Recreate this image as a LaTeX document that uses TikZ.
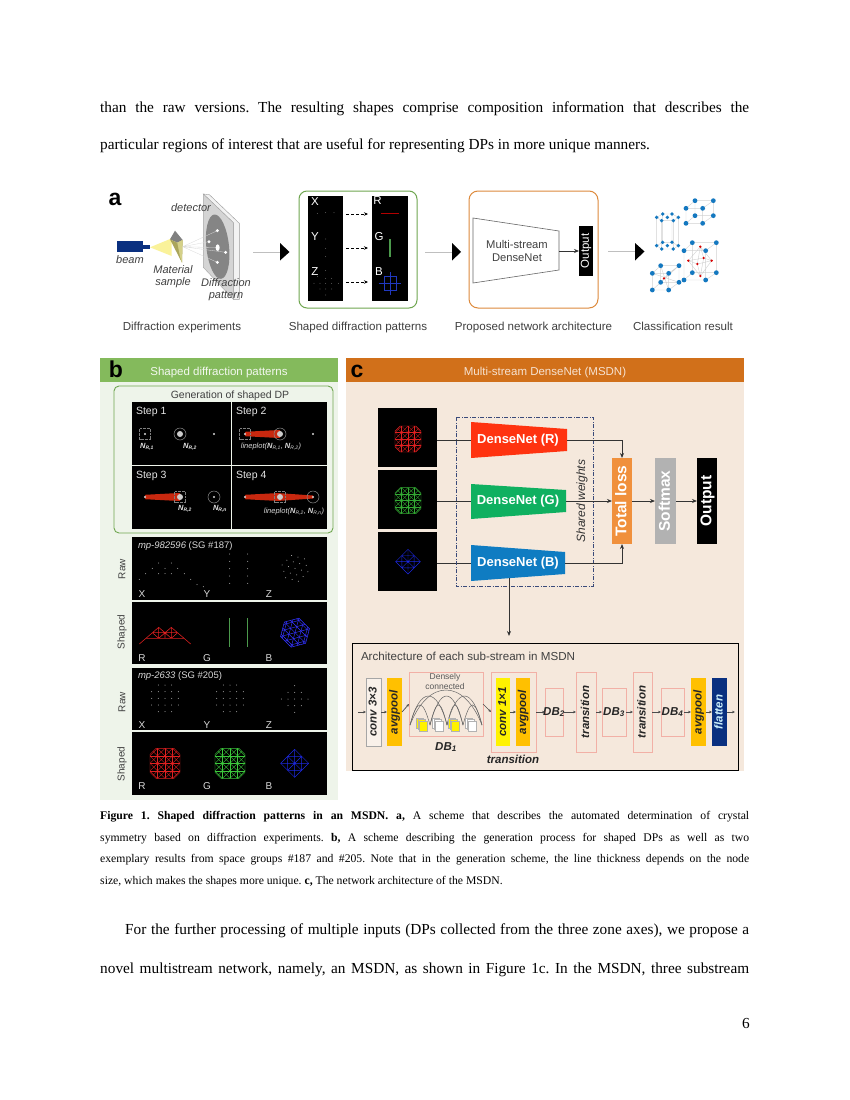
\documentclass[tikz,border=0pt]{standalone}
\usepackage{fontspec}
\setmainfont{Liberation Serif}
\setsansfont{Liberation Sans}
\usetikzlibrary{arrows.meta,calc}
\definecolor{hdrgreen}{HTML}{84BA5C}
\definecolor{bggreen}{HTML}{EEF4EA}
\definecolor{boxgreen}{HTML}{6FA650}
\definecolor{hdrorange}{HTML}{D1701A}
\definecolor{bgorange}{HTML}{F5E8DC}
\definecolor{boxorange}{HTML}{DD8A3C}
\definecolor{pinkln}{HTML}{F2B0A6}
\definecolor{txtgray}{HTML}{404040}
\definecolor{dpred}{HTML}{C8280F}
\definecolor{lred}{HTML}{E02020}
\definecolor{lgreen}{HTML}{3CC83C}
\definecolor{lblue}{HTML}{1C28E0}
\definecolor{dotblue}{HTML}{1478C0}
\definecolor{navy}{HTML}{0A3080}
\definecolor{dashnavy}{HTML}{3A4A7A}
\definecolor{dnr}{HTML}{FF3310}
\definecolor{dng}{HTML}{0FB060}
\definecolor{dnb}{HTML}{0F7CC2}
\definecolor{tlc}{HTML}{F0903C}
\definecolor{apc}{HTML}{FFC000}
\definecolor{gline}{HTML}{4C9A4C}
\definecolor{dimblue}{HTML}{2038C0}
\definecolor{coney}{HTML}{FAF29A}
\frenchspacing
\newcommand{\fs}[1]{\fontsize{#1}{#1}\selectfont}
\tikzset{
  zm/.style 2 args={shift={(#1,#2)},x=0.33333pt,y=-0.33333pt},
  txt/.style={inner sep=0pt,outer sep=0pt,font=\sffamily},
  body/.style={anchor=base west,inner sep=0pt,font=\rmfamily\fs{15.3}},
  capt/.style={anchor=base west,inner sep=0pt,font=\rmfamily\fs{11.7}},
  rect/.style={inner sep=0pt,outer sep=0pt,rectangle},
  lab/.style={txt,anchor=base,text=txtgray,font=\sffamily\fs{11.6}},
  itlab/.style={txt,anchor=base,text=txtgray,font=\sffamily\itshape\fs{11}},
  bigl/.style={txt,text=black,font=\sffamily\bfseries\fs{23}},
  whitel/.style={txt,text=white,font=\sffamily\fs{11.5}},
  flow/.style={draw=black!80,line width=0.8pt,-{Stealth[length=5pt,width=4pt]}},
  aflow/.style={draw=black!70,line width=0.7pt,-{Stealth[length=3pt,width=2.6pt]}},
  thin gray/.style={draw=black!25,line width=0.7pt},
  tri/.style={fill=black,draw=none},
  pinkbox/.style={rect,draw=pinkln,line width=0.7pt},
  blocktxt/.style={txt,rotate=90,text=black!85,text height=8.5pt,text depth=2.5pt,font=\sffamily\bfseries\itshape\fs{11.5}},
  bigrot/.style={txt,rotate=90,text=white,text height=11.5pt,text depth=3pt,font=\sffamily\bfseries\fs{15.5}},
  cryst/.style={draw=black!18,line width=0.4pt},
}
\newcommand{\bx}[6]{\node[rect,#1,minimum width={(#5-#3)*1pt},minimum height={(#6-#4)*1pt}] (#2) at ({(#3+#5)/2},{(#4+#6)/2}) {};}
\newcommand{\octlat}[4]{\begin{scope}[shift={(#1,#2)},scale=#4]
 \draw[#3,line width=0.45pt] (-2,-1.2)--(-1.2,-2)--(1.2,-2)--(2,-1.2)--(2,1.2)--(1.2,2)--(-1.2,2)--(-2,1.2)--cycle;
 \begin{scope}
 \clip (-2,-1.2)--(-1.2,-2)--(1.2,-2)--(2,-1.2)--(2,1.2)--(1.2,2)--(-1.2,2)--(-2,1.2)--cycle;
 \foreach \k in {-1,0,1}{\draw[#3,line width=0.4pt] (\k,-2)--(\k,2);\draw[#3,line width=0.4pt] (-2,\k)--(2,\k);}
 \foreach \k in {-3,-2,...,3}{\draw[#3,line width=0.35pt] (\k-3,-3)--(\k+3,3);\draw[#3,line width=0.35pt] (\k-3,3)--(\k+3,-3);}
 \end{scope}
 \foreach \i in {-1,0,1}\foreach \j in {-1,0,1}{\fill[#3] (\i,\j) circle (0.8pt/#4);}
\end{scope}}
\newcommand{\diamlat}[4]{\begin{scope}[shift={(#1,#2)},scale=#4]
 \draw[#3,line width=0.45pt] (0,-2)--(2,0)--(0,2)--(-2,0)--cycle;
 \draw[#3,line width=0.4pt] (0,-2)--(0,2) (-2,0)--(2,0) (-1,-1)--(1,1) (-1,1)--(1,-1) (-1,-1)--(-1,1) (1,-1)--(1,1) (-1,-1)--(1,-1) (-1,1)--(1,1);
 \fill[#3] (0,0) circle (0.9pt/#4);
\end{scope}}
\newcommand{\hexlat}[4]{\begin{scope}[shift={(#1,#2)},scale=#4,rotate=15]
 \draw[#3,line width=0.5pt] (0:2)--(60:2)--(120:2)--(180:2)--(240:2)--(300:2)--cycle;
 \begin{scope}
 \clip (0:2)--(60:2)--(120:2)--(180:2)--(240:2)--(300:2)--cycle;
 \foreach \a in {0,60,120}{\begin{scope}[rotate=\a]
   \foreach \k in {-2,-1,...,2}{\draw[#3,line width=0.45pt] (-3,\k*0.72)--(3,\k*0.72);}
 \end{scope}}
 \end{scope}
\end{scope}}
\newcommand{\griddots}[6]{\foreach \i in {-2,...,2}\foreach \j in {-2,...,2}{\pgfmathtruncatemacro\q{abs(\i)+abs(\j)}\ifnum\q<#4 \fill[#6] (#1+\i*#3,#2+\j*#3) circle (#5pt);\fi}}
\newcommand{\hexdots}[3]{\foreach \i in {-3,...,3}\foreach \j in {-3,...,3}{\pgfmathsetmacro\xx{#3*(\i+0.5*\j)*0.966-#3*\j*0.866*0.259}\pgfmathsetmacro\yy{#3*(\i+0.5*\j)*0.259+#3*\j*0.866*0.966}\pgfmathtruncatemacro\rr{sqrt(\xx*\xx+\yy*\yy)}\ifnum\rr<46 \fill[black!25] (#1+\xx,#2+\yy) circle (0.5pt);\fi}}
\newcommand{\smalldot}[2]{\fill[white!85!black] (#1,#2) circle (1.2pt);}
\newcommand{\bigdot}[2]{\fill[white!80!black] (#1,#2) circle (3pt);}
\newcommand{\ring}[2]{\draw[white!55!black,line width=0.5pt] (#1,#2) circle (6pt);}
\newcommand{\dsq}[2]{\draw[white!50!black,line width=0.35pt,densely dotted] (#1-5.5,#2-5.5) rectangle (#1+5.5,#2+5.5);}
\newcommand{\bandw}[3]{\fill[dpred] (#1,#3-2.2)--(#2-5,#3-3.8)--(#2,#3-3.8)--(#2,#3+3.8)--(#2-5,#3+3.8)--(#1,#3+2.2)--cycle;}
\begin{document}
\begin{tikzpicture}[x=1pt,y=-1pt]
\useasboundingbox (0,0) rectangle (850,1100);
\fill[white] (0,0) rectangle (850,1100);

% ---------- body text
\node[body] (ln1) at (100,112) {\makebox[649pt][s]{than the raw versions. The resulting shapes comprise composition information that describes the}};
\node[body] (ln2) at (100,149) {particular regions of interest that are useful for representing DPs in more unique manners.};
\node[body] (ln3) at (125,934) {\makebox[624pt][s]{For the further processing of multiple inputs (DPs collected from the three zone axes), we propose a}};
\node[body] (ln4) at (100,973) {\makebox[649pt][s]{novel multistream network, namely, an MSDN, as shown in Figure 1c. In the MSDN, three substream}};
\node[body,anchor=base east] (pg) at (750,1028) {6};
\node[capt] (c1) at (100,819) {\makebox[649pt][s]{\textbf{Figure 1. Shaped diffraction patterns in an MSDN. a,} A scheme that describes the automated determination of crystal}};
\node[capt] (c2) at (100,841) {\makebox[649pt][s]{symmetry based on diffraction experiments. \textbf{b,} A scheme describing the generation process for shaped DPs as well as two}};
\node[capt] (c3) at (100,862) {\makebox[649pt][s]{exemplary results from space groups \#187 and \#205. Note that in the generation scheme, the line thickness depends on the node}};
\node[capt] (c4) at (100,884) {size, which makes the shapes more unique. \textbf{c,} The network architecture of the MSDN.};

% ---------- panel a
\node[bigl] (la) at (115,199) {a};
\begin{scope}[zm={90}{180}]
 \fill[coney,draw=none] (180,202)--(245,175)--(245,228)--cycle;
 % detector
 \fill[black!5,draw=black!40,line width=0.4pt] (340,42)--(358,44)--(448,130)--(448,358)--(430,358)--(430,128)--cycle;
 \fill[black!17,draw=black!35,line width=0.4pt] (340,42)--(430,128)--(430,358)--(340,262)--cycle;
 \begin{scope}[shift={(383,200)}]
  \fill[black!48] (0,0) ellipse [x radius=34,y radius=97,rotate=6];
 \end{scope}
 \draw[black!15,line width=0.3pt] (278,200)--(382,152) (278,200)--(357,185) (278,200)--(383,203) (278,200)--(407,217) (278,200)--(382,247);
 \fill[white] (382,152) circle (1.6pt) (357,185) circle (1.6pt) (407,217) circle (1.6pt) (382,247) circle (1.6pt);
 \fill[white] (383,203) ellipse [x radius=6,y radius=10];
 % sample
 \fill[black!50] (255,152)--(278,180)--(262,188)--(240,178)--cycle;
 \fill[yellow!55!black!85] (240,178)--(262,188)--(278,180)--(276,248)--cycle;
 \fill[black!35!yellow!55] (262,188)--(270,230)--(276,248)--(278,180)--cycle;
\end{scope}
\bx{fill=navy}{beam}{117}{241}{143}{252}
\bx{fill=navy}{nozzle}{143}{245}{150}{249}
\node[itlab] (tdet) at (191,211) {detector};
\node[itlab] (tbeam) at (130,263) {beam};
\node[itlab] (tms1) at (173,273) {Material};
\node[itlab] (tms2) at (173,285) {sample};
\node[itlab] (tdp1) at (226,286) {Diffraction};
\node[itlab] (tdp2) at (226,298) {pattern};

\coordinate (a1s) at (253,252);
\coordinate (a1t) at (280,252);
\draw[thin gray] (a1s)--(a1t);
\fill[tri] (280,243)--(289.5,252)--(280,260.5)--cycle;

\bx{draw=boxgreen,line width=1pt,rounded corners=8pt}{gbox}{299}{191}{417}{308}
\bx{fill=black}{pxyz}{308}{196}{343}{301}
\bx{fill=black}{prgb}{372}{196}{408}{301}
\node[whitel] (tX) at (315,202) {X};
\node[whitel] (tY) at (315,237) {Y};
\node[whitel] (tZ) at (315,272) {Z};
\node[whitel] (tR) at (377.5,201) {R};
\node[whitel] (tG) at (379,237) {G};
\node[whitel] (tB) at (379,272) {B};
\begin{scope}[zm={90}{180}]
 \foreach \p in {(682,100),(707,98),(732,98),(707,177),(707,205),(707,230)}{\fill[black!30] \p circle (0.4pt);}
 \foreach \p in {(683,290),(707,272),(707,295),(725,295),(672,310),(690,310),(707,310),(725,310),(745,310),(690,327),(707,327),(725,327),(707,345)}{\fill[black!30] \p circle (0.4pt);}
 \draw[red!70!black,line width=0.8pt] (873,99)--(928,99);
 \draw[gline,line width=1.1pt] (900,178)--(900,232);
 \draw[dimblue,line width=0.45pt] (866,310)--(934,310) (900,276)--(900,346) (882,290)--(918,290)--(918,330)--(882,330)--cycle;
\end{scope}
\coordinate (d1a) at (346,214); \coordinate (d1b) at (368,214);
\coordinate (d2a) at (346,248); \coordinate (d2b) at (368,248);
\coordinate (d3a) at (346,282); \coordinate (d3b) at (368,282);
\foreach \k in {1,2,3}{\draw[densely dashed,line width=0.6pt,-{Stealth[length=4pt,width=3.5pt]}] (d\k a)--(d\k b);}

\coordinate (a2s) at (425,252);
\coordinate (a2t) at (452,252);
\draw[thin gray] (a2s)--(a2t);
\fill[tri] (452,243)--(461,252)--(452,260.5)--cycle;

\bx{draw=boxorange,line width=1pt,rounded corners=9pt}{obox}{469}{191}{598}{308}
\draw[draw=black!60,line width=0.6pt,fill=white] (473,218)--(559,231)--(559,270)--(473,283)--cycle;
\coordinate (trapout) at (559,251);
\node[txt,text=txtgray,font=\sffamily\fs{11.2},align=center] (msd) at (517,251) {Multi-stream\\[2pt]DenseNet};
\bx{fill=black}{outa}{579}{226}{593}{276}
\node[txt,rotate=90,text=white,font=\sffamily\fs{11.5}] (outat) at (outa) {Output};
\draw[flow] (trapout)--(outa.west);

\coordinate (a3s) at (608,251);
\coordinate (a3t) at (635,251);
\draw[thin gray] (a3s)--(a3t);
\fill[tri] (635,243)--(644.5,251.5)--(635,260.5)--cycle;

\begin{scope}[zm={430}{180}]
 % cube
 \draw[cryst] (768,85)--(818,85)--(818,130)--(768,130)--cycle (795,62)--(850,62)--(850,107)--(795,107)--cycle (768,85)--(795,62) (818,85)--(850,62) (818,130)--(850,107) (768,130)--(795,107);
 \foreach \p in {(795,62),(850,62),(768,85),(818,85),(795,107),(850,107),(768,130),(818,130)}{\fill[dotblue] \p circle (2.4pt);}
 % hex
 \draw[cryst] (680,112)--(698,102)--(726,102)--(745,112)--(730,122)--(695,122)--cycle (680,197)--(698,187)--(726,187)--(745,197)--(730,207)--(695,207)--cycle (680,112)--(680,197) (698,102)--(698,187) (726,102)--(726,187) (745,112)--(745,197) (730,122)--(730,207) (695,122)--(695,207);
 \foreach \p in {(680,112),(698,102),(726,102),(745,112),(730,122),(695,122),(712,112),(680,197),(698,187),(726,187),(745,197),(730,207),(695,207),(712,197)}{\fill[dotblue] \p circle (1.9pt);}
 % bcc
 \draw[cryst] (667,280)--(716,280)--(716,330)--(667,330)--cycle (692,257)--(747,257)--(747,307)--(692,307)--cycle (667,280)--(692,257) (716,280)--(747,257) (716,330)--(747,307) (667,330)--(692,307) (667,280)--(747,307) (716,280)--(692,307) (692,257)--(716,330) (747,257)--(667,330);
 \foreach \p in {(692,257),(747,257),(667,280),(716,280),(692,307),(747,307),(667,330),(716,330)}{\fill[dotblue] \p circle (2.4pt);}
 \fill[red!85!black] (702,295) circle (1.3pt);
 % fcc
 \draw[cryst] (762,212)--(827,212)--(827,300)--(762,300)--cycle (787,188)--(859,188)--(859,278)--(787,278)--cycle (762,212)--(787,188) (827,212)--(859,188) (827,300)--(859,278) (762,300)--(787,278) (811,200)--(775,242)--(811,288)--(845,242)--cycle (821,234)--(811,200)--(802,252)--(811,288)--(821,234) (775,242)--(821,234)--(845,242)--(802,252)--cycle;
 \foreach \p in {(787,188),(859,188),(762,212),(827,212),(787,278),(859,278),(762,300),(827,300)}{\fill[dotblue] \p circle (2.4pt);}
 \foreach \p in {(811,200),(775,242),(845,242),(821,234),(802,252),(811,288)}{\fill[red!85!black] \p circle (1.3pt);}
\end{scope}

\node[lab] (cap1) at (182,330) {Diffraction experiments};
\node[lab] (cap2) at (358,330) {Shaped diffraction patterns};
\node[lab] (cap3) at (533.5,330) {Proposed network architecture};
\node[lab] (cap4) at (683,330) {Classification result};

% ---------- panel b
\bx{fill=bggreen}{bgb}{100}{382}{338}{800}
\bx{fill=hdrgreen}{hdb}{100}{358}{338}{382}
\node[bigl] (lb) at (116,369.5) {b};
\node[txt,anchor=base,text=white!90!hdrgreen,font=\sffamily\fs{11.5}] (tb) at (219,375) {Shaped diffraction patterns};
\bx{draw=boxgreen,line width=0.9pt,rounded corners=5pt}{gen}{114}{386}{333}{533}
\node[txt,anchor=base,text=txtgray,font=\sffamily\fs{10.5}] (tgen) at (230,398) {Generation of shaped DP};
\bx{fill=black}{s1}{132}{402}{230.5}{464.5}
\bx{fill=black}{s2}{232}{402}{327}{464.5}
\bx{fill=black}{s3}{132}{466}{230.5}{529}
\bx{fill=black}{s4}{232}{466}{327}{529}
\foreach \n/\t/\xx/\yy in {s1t/Step 1/136/412,s2t/Step 2/236/412,s3t/Step 3/136/476,s4t/Step 4/236/476}{
 \node[txt,anchor=west,text=white!90!black,font=\sffamily\fs{10.5}] (\n) at (\xx,\yy) {\t};}
% step 1
\smalldot{145}{434}\dsq{145}{434}\bigdot{180}{434}\ring{180}{434}\smalldot{214}{434}
\node[txt,text=white!90!black,font=\sffamily\bfseries\itshape\fs{7.5}] (n1) at (147,447) {N\textsubscript{\fontsize{5}{5}\selectfont R,1}};
\node[txt,text=white!90!black,font=\sffamily\bfseries\itshape\fs{7.5}] (n2) at (190,447) {N\textsubscript{\fontsize{5}{5}\selectfont R,2}};
% step 2
\bandw{245}{280}{434}\smalldot{245}{434}\dsq{245}{434}\bigdot{280}{434}\ring{280}{434}\smalldot{313}{434}
\node[txt,text=white!85!black,font=\sffamily\itshape\fs{7.5}] (n3) at (271,447) {lineplot(\textbf{N}\textsubscript{\fontsize{5}{5}\selectfont R,1}, \textbf{N}\textsubscript{\fontsize{5}{5}\selectfont R,2})};
% step 3
\bandw{145}{180}{497}\smalldot{145}{497}\bigdot{180}{497}\dsq{180}{497}\smalldot{214}{497}\ring{214}{497}
\node[txt,text=white!90!black,font=\sffamily\bfseries\itshape\fs{7.5}] (n4) at (185,509) {N\textsubscript{\fontsize{5}{5}\selectfont R,2}};
\node[txt,text=white!90!black,font=\sffamily\bfseries\itshape\fs{7.5}] (n5) at (220,509) {N\textsubscript{\fontsize{5}{5}\selectfont R,n}};
% step 4
\bandw{245}{280}{497}
\fill[dpred] (280,493.2)--(313,495.5)--(313,498.5)--(280,500.8)--cycle;
\smalldot{245}{497}\bigdot{280}{497}\dsq{280}{497}\smalldot{313}{497}\ring{313}{497}
\node[txt,text=white!85!black,font=\sffamily\itshape\fs{7.5}] (n6) at (294,512) {lineplot(\textbf{N}\textsubscript{\fontsize{5}{5}\selectfont R,2}, \textbf{N}\textsubscript{\fontsize{5}{5}\selectfont R,n})};

\bx{fill=black}{r1}{132}{537}{327}{600}
\bx{fill=black}{r2}{132}{602}{327}{664}
\bx{fill=black}{r3}{132}{668}{327}{730}
\bx{fill=black}{r4}{132}{732}{327}{795}
\foreach \n/\t/\yy in {v1/Raw/569,v2/Shaped/632,v3/Raw/702,v4/Shaped/764}{
 \node[txt,rotate=90,text=txtgray,font=\sffamily\fs{10}] (\n) at (122,\yy) {\t};}
\node[txt,anchor=west,text=white!85!black,font=\sffamily\fs{9.5}] (m1) at (138,546) {\textit{mp-982596} (SG \#187)};
\node[txt,anchor=west,text=white!85!black,font=\sffamily\fs{9.5}] (m2) at (138,676) {\textit{mp-2633} (SG \#205)};
\foreach \n/\t/\xx/\yy in {q1/X/142/594,q2/Y/207/594,q3/Z/269/594,q4/R/142/658,q5/G/207/658,q6/B/269/658,q7/X/142/725,q8/Y/207/725,q9/Z/269/725,q10/R/142/786,q11/G/207/786,q12/B/269/786}{
 \node[txt,text=white!85!black,font=\sffamily\fs{10}] (\n) at (\xx,\yy) {\t};}
\begin{scope}[zm={100}{530}]
 \foreach \p in {(118,148),(137,131),(157,115),(176,99),(195,115),(214,99),(233,115),(253,131),(272,148),(291,164),(310,170),(176,131),(195,131),(214,131)}{\fill[black!25] \p circle (0.5pt);}
 \foreach \yy in {72,94,116,138,160}{\fill[black!25] (389,\yy) circle (0.5pt) (443,\yy) circle (0.5pt);}
 \hexdots{585}{115}{20}
 % shaped row 1
 \draw[lred,line width=0.55pt] (118,342)--(176,292)--(195,308)--(214,292)--(272,342) (137,325)--(253,325) (157,308)--(233,308) (176,292)--(176,325) (214,292)--(214,325) (195,308)--(195,325) (157,308)--(176,325)--(195,308)--(214,325)--(233,308) (176,292)--(214,325) (214,292)--(176,325);
 \draw[gline,line width=0.9pt] (389,265)--(389,352) (443,265)--(443,352);
 \hexlat{585}{308}{blue!80!white}{22.5}
 % raw 2
 \griddots{195}{505}{20}{4}{0.5}{black!25}
 \griddots{390}{505}{20}{4}{0.5}{black!25}
 \griddots{584}{507}{20}{3}{0.5}{black!25}
 % shaped 2
 \octlat{195}{700}{lred}{22.5}
 \octlat{390}{700}{lgreen}{22.5}
 \diamlat{584}{700}{lblue}{21}
\end{scope}

% ---------- panel c
\bx{fill=bgorange}{bgc}{346}{382}{744}{771}
\bx{fill=hdrorange}{hdc}{346}{358}{744}{382}
\node[bigl] (lc) at (357,371) {c};
\node[txt,anchor=base,text=white!80!hdrorange,font=\sffamily\fs{11.5}] (tc) at (545,375) {Multi-stream DenseNet (MSDN)};
\bx{fill=black}{i1}{378}{408}{437}{467}
\bx{fill=black}{i2}{378}{470}{437}{529}
\bx{fill=black}{i3}{378}{532}{437}{591}
\begin{scope}[zm={345}{355}]
 \octlat{189}{252}{lred}{19.5}
 \octlat{189}{437}{lgreen!85!black}{19.5}
 \diamlat{189}{620}{lblue}{18.5}
\end{scope}
% input connectors
\coordinate (t1in) at (471,440); \coordinate (t2in) at (471,501); \coordinate (t3in) at (471,563);
\coordinate (t1out) at (567,440); \coordinate (t2out) at (566,501); \coordinate (t3out) at (565,563);
\coordinate (t3dn) at (509,578); \coordinate (archtop) at (509,636);
\draw[black!80,line width=0.7pt] (i1.east|-t1in)--(t1in);
\draw[black!80,line width=0.7pt] (i2.east|-t2in)--(t2in);
\draw[black!80,line width=0.7pt] (i3.east|-t3in)--(t3in);
\draw[draw=dashnavy,line width=0.8pt,dash pattern=on 4pt off 1.5pt on 1pt off 1.5pt] (456,417) rectangle (593,586);
\fill[fill=dnr] (471,422)--(567,429)--(567,451)--(471,458)--cycle;
\fill[fill=dng] (471,484)--(566,490)--(566,512)--(471,519)--cycle;
\fill[fill=dnb] (471,545)--(565,552)--(565,574)--(471,581)--cycle;
\node[txt,text=white,font=\sffamily\bfseries\fs{13}] (dr) at (518,440.5) {DenseNet (R)};
\node[txt,text=white,font=\sffamily\bfseries\fs{13}] (dg) at (518,501.5) {DenseNet (G)};
\node[txt,text=white,font=\sffamily\bfseries\fs{13}] (db) at (518,563) {DenseNet (B)};
\node[txt,rotate=90,text=black!80,font=\sffamily\itshape\fs{12}] (shw) at (582,501) {Shared weights};
\bx{fill=tlc}{tl}{612}{458}{632}{544}
\bx{fill=black!30}{sm}{655}{458}{676}{544}
\bx{fill=black}{oc}{697}{458}{717}{544}
\node[bigrot] (tlt) at (tl) {Total loss};
\node[bigrot] (smt) at (sm) {Softmax};
\node[bigrot] (oct) at (oc) {Output};
\draw[flow] (t1out)-|(tl.north);
\draw[flow] (t2out)--(tl.west);
\draw[flow] (t3out)-|(tl.south);
\draw[flow] (tl.east)--(sm.west);
\draw[flow] (sm.east)--(oc.west);
\draw[flow] (t3dn)--(archtop);

\bx{draw=black,line width=1pt}{arch}{352}{643}{738}{770}
\node[txt,anchor=west,text=txtgray,font=\sffamily\fs{11.6}] (tarch) at (361,656) {Architecture of each sub-stream in MSDN};
\coordinate (fin) at (358,712); \coordinate (fout) at (735,712);
\bx{pinkbox}{db1}{409}{672}{483}{736}
\bx{pinkbox}{tr1}{491}{672}{536}{752}
\bx{pinkbox}{db2}{545}{688}{563}{736}
\bx{pinkbox}{tr2}{576}{672}{596}{752}
\bx{pinkbox}{db3}{602}{688}{626}{736}
\bx{pinkbox}{tr3}{633}{672}{652}{752}
\bx{pinkbox}{db4}{661}{688}{684}{736}
\bx{fill=bgorange!60!white,draw=black!35,line width=0.5pt}{cv}{366}{678}{381}{746}
\bx{fill=apc}{ap1}{387}{678}{402}{746}
\bx{fill=yellow}{cv1}{496}{678}{510}{746}
\bx{fill=apc}{ap2}{516}{678}{530}{746}
\bx{fill=apc}{ap3}{691}{678}{706}{746}
\bx{fill=navy}{fl}{712}{678}{727}{746}
\node[blocktxt] (cvt) at (cv) {conv 3×3};
\node[blocktxt] (ap1t) at (ap1) {avgpool};
\node[blocktxt] (cv1t) at (cv1) {conv 1×1};
\node[blocktxt] (ap2t) at (ap2) {avgpool};
\node[blocktxt] (ap3t) at (ap3) {avgpool};
\node[blocktxt,text=cyan!20!white] (flt) at (fl) {flatten};
\node[blocktxt] (tr2t) at (tr2) {transition};
\node[blocktxt] (tr3t) at (tr3) {transition};
\node[txt,text=black!85,font=\sffamily\bfseries\itshape\fs{11.5}] (db2t) at (db2) {DB\textsubscript{2}};
\node[txt,text=black!85,font=\sffamily\bfseries\itshape\fs{11.5}] (db3t) at (db3) {DB\textsubscript{3}};
\node[txt,text=black!85,font=\sffamily\bfseries\itshape\fs{11.5}] (db4t) at (db4) {DB\textsubscript{4}};
\node[txt,text=black!85,font=\sffamily\bfseries\itshape\fs{11.5}] (db1t) at (446,747) {DB\textsubscript{1}};
\node[txt,text=black!85,font=\sffamily\bfseries\itshape\fs{11.5}] (tr1t) at (513,759) {transition};
\node[txt,text=black!65,font=\sffamily\fs{8.5},align=center] (dc) at (445,681) {Densely\\[1.5pt]connected};
\draw[aflow] (fin)--(cv.west);
\draw[aflow] (cv.east)--(ap1.west);
\draw[aflow] (ap1.east)--(db1.west);
\draw[aflow] (db1.east)--(tr1.west);
\draw[aflow] (cv1.east)--(ap2.west);
\draw[aflow] (tr1.east)--(db2.west);
\draw[aflow] (db2.east)--(tr2.west);
\draw[aflow] (tr2.east)--(db3.west);
\draw[aflow] (db3.east)--(tr3.west);
\draw[aflow] (tr3.east)--(db4.west);
\draw[aflow] (db4.east)--(ap3.west);
\draw[aflow] (ap3.east)--(fl.west);
\draw[aflow] (fl.east)--(fout);
\begin{scope}[zm={345}{635}]
 \coordinate (u0) at (195,270); \coordinate (u1) at (255,270);
 \coordinate (u2) at (306,270); \coordinate (u3) at (354,270); \coordinate (u4) at (411,270);
 \draw[black!60,line width=0.5pt] (u0) .. controls +(22,-80) and +(-22,-80) .. (u1);
 \draw[black!60,line width=0.5pt] (u1) .. controls +(20,-80) and +(-20,-80) .. (u2);
 \draw[black!60,line width=0.5pt] (u2) .. controls +(20,-80) and +(-20,-80) .. (u3);
 \draw[black!60,line width=0.5pt] (u3) .. controls +(22,-80) and +(-22,-80) .. (u4);
 \draw[black!60,line width=0.5pt] (u0) .. controls +(30,-116) and +(-30,-116) .. (u2);
 \draw[black!60,line width=0.5pt] (u1) .. controls +(30,-116) and +(-30,-116) .. (u3);
 \draw[black!60,line width=0.5pt] (u2) .. controls +(30,-116) and +(-30,-116) .. (u4);
 \draw[black!60,line width=0.5pt] (u0) .. controls +(55,-140) and +(-55,-140) .. (u4);
 \foreach \xx/\cl in {213/yellow,261/white,309/yellow,360/white}{
  \foreach \d in {0,5,10}{\fill[\cl,draw=black!30,line width=0.3pt] (\xx+\d,250+\d*0.7) rectangle ++(22,30);}}
\end{scope}
\end{tikzpicture}
\end{document}
